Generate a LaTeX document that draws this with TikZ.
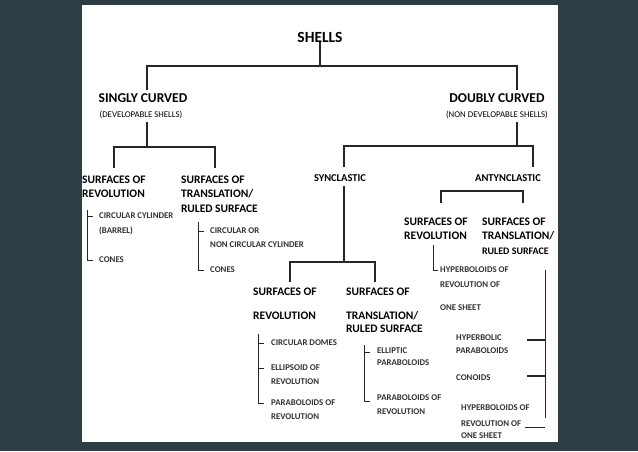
\documentclass[tikz,border=0pt]{standalone}
\usepackage{fontspec}
\setmainfont{Carlito}
\begin{document}
\begin{tikzpicture}[x=1pt,y=-1pt,
 big/.style={font=\bfseries\fontsize{15.5}{16}\selectfont,inner sep=0pt},
 hd/.style={font=\bfseries\fontsize{13.5}{14}\selectfont,inner sep=0pt},
 sub/.style={font=\bfseries\fontsize{11.5}{12}\selectfont,inner sep=0pt,anchor=west},
 sm/.style={font=\fontsize{8.8}{9}\selectfont,inner sep=0pt},
 it/.style={font=\bfseries\fontsize{8.8}{9}\selectfont,inner sep=0pt,anchor=west,text=black!80},
 ln/.style={line width=1.4pt,black!85},
 thin/.style={line width=0.9pt,black!85}]
\fill[fill={rgb,255:red,46;green,61;blue,69}] (0,0) rectangle (638,451);
\fill[white] (82,5) rectangle (558,442);
\node[big] (shells) at (320,37) {SHELLS};
\node[hd] (sc) at (143,98) {SINGLY CURVED};
\node[sm] (scd) at (141,115) {(DEVELOPABLE SHELLS)};
\node[hd] (dc) at (497,98) {DOUBLY CURVED};
\node[sm] (dcd) at (497,115) {(NON DEVELOPABLE SHELLS)};
\draw[ln] (shells.south) -- (320,66);
\draw[ln] (147,90) -- (147,66) -- (517,66) -- (517,90);
% singly curved
\draw[ln] (147,122) -- (147,147);
\draw[ln] (114,168) -- (114,147) -- (215,147) -- (215,168);
\node[sub] (sr1) at (82,180) {SURFACES OF};
\node[sub] (sr2) at (82,194) {REVOLUTION};
\node[sub] (st1) at (181,180) {SURFACES OF};
\node[sub] (st2) at (181,194) {TRANSLATION/};
\node[sub] (st3) at (181,209) {RULED SURFACE};
\draw[thin] (87,210) -- (87,260) -- (93,260);
\draw[thin] (87,216) -- (93,216);
\node[it] at (99,216) {CIRCULAR CYLINDER};
\node[it] at (99,231) {(BARREL)};
\node[it] at (99,260) {CONES};
\draw[thin] (198,222) -- (198,270) -- (204,270);
\draw[thin] (198,231) -- (204,231);
\node[it] at (210,231) {CIRCULAR OR};
\node[it] at (210,245) {NON CIRCULAR CYLINDER};
\node[it] at (210,270) {CONES};
% doubly curved
\draw[ln] (517,122) -- (517,146);
\draw[ln] (344,167) -- (344,146) -- (533,146) -- (533,167);
\node[font=\bfseries\fontsize{10.5}{11}\selectfont,inner sep=0pt] (syn) at (340,178) {SYNCLASTIC};
\node[font=\bfseries\fontsize{10.5}{11}\selectfont,inner sep=0pt] (ant) at (508,178) {ANTYNCLASTIC};
% synclastic
\draw[ln] (344,186) -- (344,262);
\draw[ln] (290,282) -- (290,262) -- (375,262) -- (375,282);
\node[sub] at (253,292) {SURFACES OF};
\node[sub] at (253,316) {REVOLUTION};
\node[sub] at (346,292) {SURFACES OF};
\node[sub] at (346,316) {TRANSLATION/};
\node[sub] at (346,329) {RULED SURFACE};
\draw[thin] (258,334) -- (258,403) -- (264,403);
\draw[thin] (258,343) -- (264,343);
\draw[thin] (258,368) -- (264,368);
\node[it] at (271,343) {CIRCULAR DOMES};
\node[it] at (271,368) {ELLIPSOID OF};
\node[it] at (271,382) {REVOLUTION};
\node[it] at (271,403) {PARABOLOIDS OF};
\node[it] at (271,417) {REVOLUTION};
\draw[thin] (364,345) -- (364,401) -- (370,401);
\draw[thin] (364,352) -- (370,352);
\node[it] at (377,351) {ELLIPTIC};
\node[it] at (377,363) {PARABOLOIDS};
\node[it] at (377,398) {PARABOLOIDS OF};
\node[it] at (377,412) {REVOLUTION};
% antynclastic
\draw[ln] (441,203) -- (441,191) -- (523,191) -- (523,203);
\node[sub] at (404,222) {SURFACES OF};
\node[sub] at (404,236) {REVOLUTION};
\node[sub] at (482,222) {SURFACES OF};
\node[sub] at (482,236) {TRANSLATION/};
\node[sub,font=\bfseries\fontsize{10}{11}\selectfont] at (482,251) {RULED SURFACE};
\draw[thin] (433,245) -- (433,270) -- (438,270);
\node[it] at (440,270) {HYPERBOLOIDS OF};
\node[it] at (440,285) {REVOLUTION OF};
\node[it] at (440,308) {ONE SHEET};
\draw[thin] (545,270) -- (545,418);
\draw[ln] (527,340) -- (545,340);
\draw[ln] (527,376) -- (545,376);
\draw[thin] (525,427) -- (545,427);
\node[it] at (456,338) {HYPERBOLIC};
\node[it] at (456,351) {PARABOLOIDS};
\node[it] at (456,378) {CONOIDS};
\node[it] at (461,408) {HYPERBOLOIDS OF};
\node[it] at (461,424) {REVOLUTION OF};
\node[it] at (461,436) {ONE SHEET};
\end{tikzpicture}
\end{document}
